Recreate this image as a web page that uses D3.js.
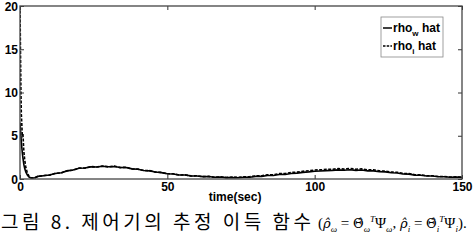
<!DOCTYPE html>
<html>
<head>
<meta charset="utf-8">
<script src="https://cdn.jsdelivr.net/npm/d3@7"></script>
<style>
  body { margin: 0; background: #fff; }
  svg { display: block; }
</style>
</head>
<body>
<div id="chart"></div>
<script>
// time axis (sec)
const timeSec = [0, 0.15, 0.3, 0.45, 0.6, 0.8, 1, 1.3, 1.6, 2, 2.5, 3, 3.5, 4, 5,
  6, 8, 10, 12, 14, 16, 18, 20, 22, 24, 26, 28, 30, 32, 34, 36, 38, 40, 42, 44,
  46, 48, 50, 52, 54, 56, 58, 60, 62, 64, 66, 68, 70, 72, 74, 76, 78, 80, 82, 84,
  86, 88, 90, 92, 94, 96, 98, 100, 102, 104, 106, 108, 110, 112, 114, 116, 118, 120, 122, 124,
  126, 128, 130, 132, 134, 136, 138, 140, 142, 144, 146, 148, 150];

// rho_w hat (solid)
const rhoW = [6.5, 5.8, 5.0, 4.3, 3.7, 3.0, 2.4, 1.7, 1.2, 0.8, 0.45, 0.25, 0.14, 0.12, 0.15,
  0.3, 0.38, 0.47, 0.64, 0.72, 0.94, 1.05, 1.24, 1.28, 1.4,
  1.39, 1.47, 1.41, 1.45, 1.33, 1.32, 1.17, 1.12, 0.99, 0.94,
  0.81, 0.74, 0.61, 0.58, 0.47, 0.46, 0.36, 0.35, 0.27, 0.28,
  0.21, 0.23, 0.16, 0.18, 0.15, 0.2, 0.2, 0.3, 0.3, 0.4,
  0.4, 0.52, 0.53, 0.64, 0.68, 0.77, 0.82, 0.9, 0.93, 0.97,
  1.0, 1.05, 1.01, 1.07, 1.0, 1.04, 0.94, 0.94, 0.84, 0.82,
  0.72, 0.7, 0.58, 0.56, 0.45, 0.44, 0.34, 0.34, 0.26, 0.26,
  0.2, 0.23, 0.19];

// rho_i hat (dashed)
const rhoI = [20, 15, 10.5, 7.5, 6.5, 4.8, 5.2, 3.2, 2.2, 1.3, 0.7, 0.35, 0.18, 0.12, 0.14,
  0.28, 0.4, 0.45, 0.66, 0.7, 0.96, 1.02, 1.27, 1.26, 1.44,
  1.38, 1.5, 1.4, 1.49, 1.32, 1.36, 1.16, 1.15, 0.98, 0.97,
  0.8, 0.77, 0.6, 0.6, 0.46, 0.48, 0.35, 0.37, 0.27, 0.3,
  0.2, 0.25, 0.18, 0.22, 0.2, 0.26, 0.27, 0.36, 0.38, 0.48,
  0.5, 0.62, 0.64, 0.76, 0.8, 0.9, 0.95, 1.04, 1.06, 1.12,
  1.13, 1.2, 1.14, 1.22, 1.13, 1.18, 1.06, 1.06, 0.94, 0.92,
  0.8, 0.78, 0.64, 0.62, 0.5, 0.48, 0.37, 0.37, 0.28, 0.29,
  0.22, 0.25, 0.21];

const xTicks = [0, 50, 100, 150];
const yTicks = [0, 5, 10, 15, 20];

const W = 474, H = 244;
const margin = {top: 6, right: 12, bottom: 65, left: 20};
const width = W - margin.left - margin.right;
const height = H - margin.top - margin.bottom;

const svg = d3.select("#chart").append("svg")
    .attr("width", W)
    .attr("height", H);

const g = svg.append("g")
    .attr("transform", `translate(${margin.left},${margin.top})`);

const x = d3.scaleLinear().domain([0, 150]).range([0, width]);
const y = d3.scaleLinear().domain([0, 20]).range([height, 0]);

g.append("clipPath").attr("id", "clip")
  .append("rect").attr("width", width).attr("height", height);

// lines
const line = (vals) => d3.line()
    .x((d, i) => x(timeSec[i]))
    .y(d => y(d))(vals);

g.append("path")
    .attr("d", line(rhoW))
    .attr("clip-path", "url(#clip)")
    .attr("fill", "none")
    .attr("stroke", "#000")
    .attr("stroke-width", 1.6);

g.append("path")
    .attr("d", line(rhoI))
    .attr("clip-path", "url(#clip)")
    .attr("fill", "none")
    .attr("stroke", "#000")
    .attr("stroke-width", 1.6)
    .attr("stroke-dasharray", "3,1.5");

// axes, ticks inside like matlab
const tickFont = "'Liberation Sans', Arial, sans-serif";
const axB = g.append("g")
    .attr("transform", `translate(0,${height})`)
    .call(d3.axisBottom(x).tickValues(xTicks).tickSize(-4).tickPadding(3));
const axT = g.append("g")
    .call(d3.axisTop(x).tickValues(xTicks).tickSize(-4).tickFormat(""));
const axL = g.append("g")
    .call(d3.axisLeft(y).tickValues(yTicks).tickSize(-4).tickPadding(2));
const axR = g.append("g")
    .attr("transform", `translate(${width},0)`)
    .call(d3.axisRight(y).tickValues(yTicks).tickSize(-4).tickFormat(""));

[axB, axT, axL, axR].forEach(a => {
  a.select(".domain").remove();
  a.selectAll("line").attr("stroke", "#333");
  a.selectAll("text")
    .attr("fill", "#000")
    .style("font-family", tickFont)
    .style("font-weight", "bold")
    .style("font-size", "12px");
});
axL.selectAll("text").attr("dy", "0.35em");

g.append("rect")
    .attr("width", width)
    .attr("height", height)
    .attr("fill", "none")
    .attr("stroke", "#444")
    .attr("stroke-width", 1.3);

g.append("text")
    .attr("x", x(73))
    .attr("y", height + 22)
    .attr("text-anchor", "middle")
    .style("font-family", tickFont)
    .style("font-weight", "bold")
    .style("font-size", "12px")
    .text("time(sec)");

// legend
const lg = svg.append("g").attr("transform", "translate(381,17)");
lg.append("rect")
    .attr("width", 62).attr("height", 40)
    .attr("fill", "#fff")
    .attr("stroke", "#888")
    .attr("stroke-width", 0.8);
const legendItems = [
  {name: "rho", sub: "w", dash: null},
  {name: "rho", sub: "i", dash: "2.5,1.2"}
];
legendItems.forEach((d, i) => {
  const yy = 11 + i * 18;
  lg.append("line")
      .attr("x1", 2).attr("x2", 11)
      .attr("y1", yy).attr("y2", yy)
      .attr("stroke", "#000")
      .attr("stroke-width", 1.5)
      .attr("stroke-dasharray", d.dash);
  const t = lg.append("text")
      .attr("x", 12).attr("y", yy + 4)
      .style("font-family", tickFont)
      .style("font-weight", "bold")
      .style("font-size", "12px");
  t.append("tspan").text(d.name);
  t.append("tspan").attr("dy", 4).style("font-size", "8px").text(d.sub);
  t.append("tspan").attr("dy", -4).text(" hat");
});

// caption
svg.append("text")
    .attr("x", 1)
    .attr("y", 229)
    .style("font-family", "'Noto Sans CJK KR', sans-serif")
    .style("font-size", "19px")
    .style("letter-spacing", "3.5px")
    .text("그림 8. 제어기의 추정 이득 함수");

const mathParts = [
  {t: "(", s: "n"},
  {t: "ρ\u0302", s: "hat"}, {t: "ω", s: "sub"},
  {t: " = ", s: "n"},
  {t: "Θ\u0302", s: "hat"}, {t: "ω", s: "sub"}, {t: "T", s: "sup"},
  {t: "Ψ", s: "n"}, {t: "ω", s: "sub"},
  {t: ", ", s: "n"},
  {t: "ρ\u0302", s: "hat"}, {t: "i", s: "sub"},
  {t: " = ", s: "n"},
  {t: "Θ\u0302", s: "hat"}, {t: "i", s: "sub"}, {t: "T", s: "sup"},
  {t: "Ψ", s: "n"}, {t: "i", s: "sub"},
  {t: ").", s: "n"}
];
const math = svg.append("text")
    .attr("x", 318)
    .attr("y", 228)
    .style("font-family", "'Liberation Serif', serif")
    .style("font-size", "15px");
let shift = 0;
mathParts.forEach(p => {
  let target = 0;
  if (p.s === "sub") target = 4;
  if (p.s === "sup") target = -6;
  const ts = math.append("tspan")
      .attr("dy", target - shift)
      .text(p.t);
  shift = target;
  if (p.s === "sub" || p.s === "sup") ts.style("font-size", "9px").style("font-style", "italic");
  if (p.s === "hat") ts.style("font-family", "'DejaVu Serif', serif").style("font-size", "13px")
      .style("font-style", p.t[0] === "ρ" ? "italic" : "normal");
});
</script>
</body>
</html>
